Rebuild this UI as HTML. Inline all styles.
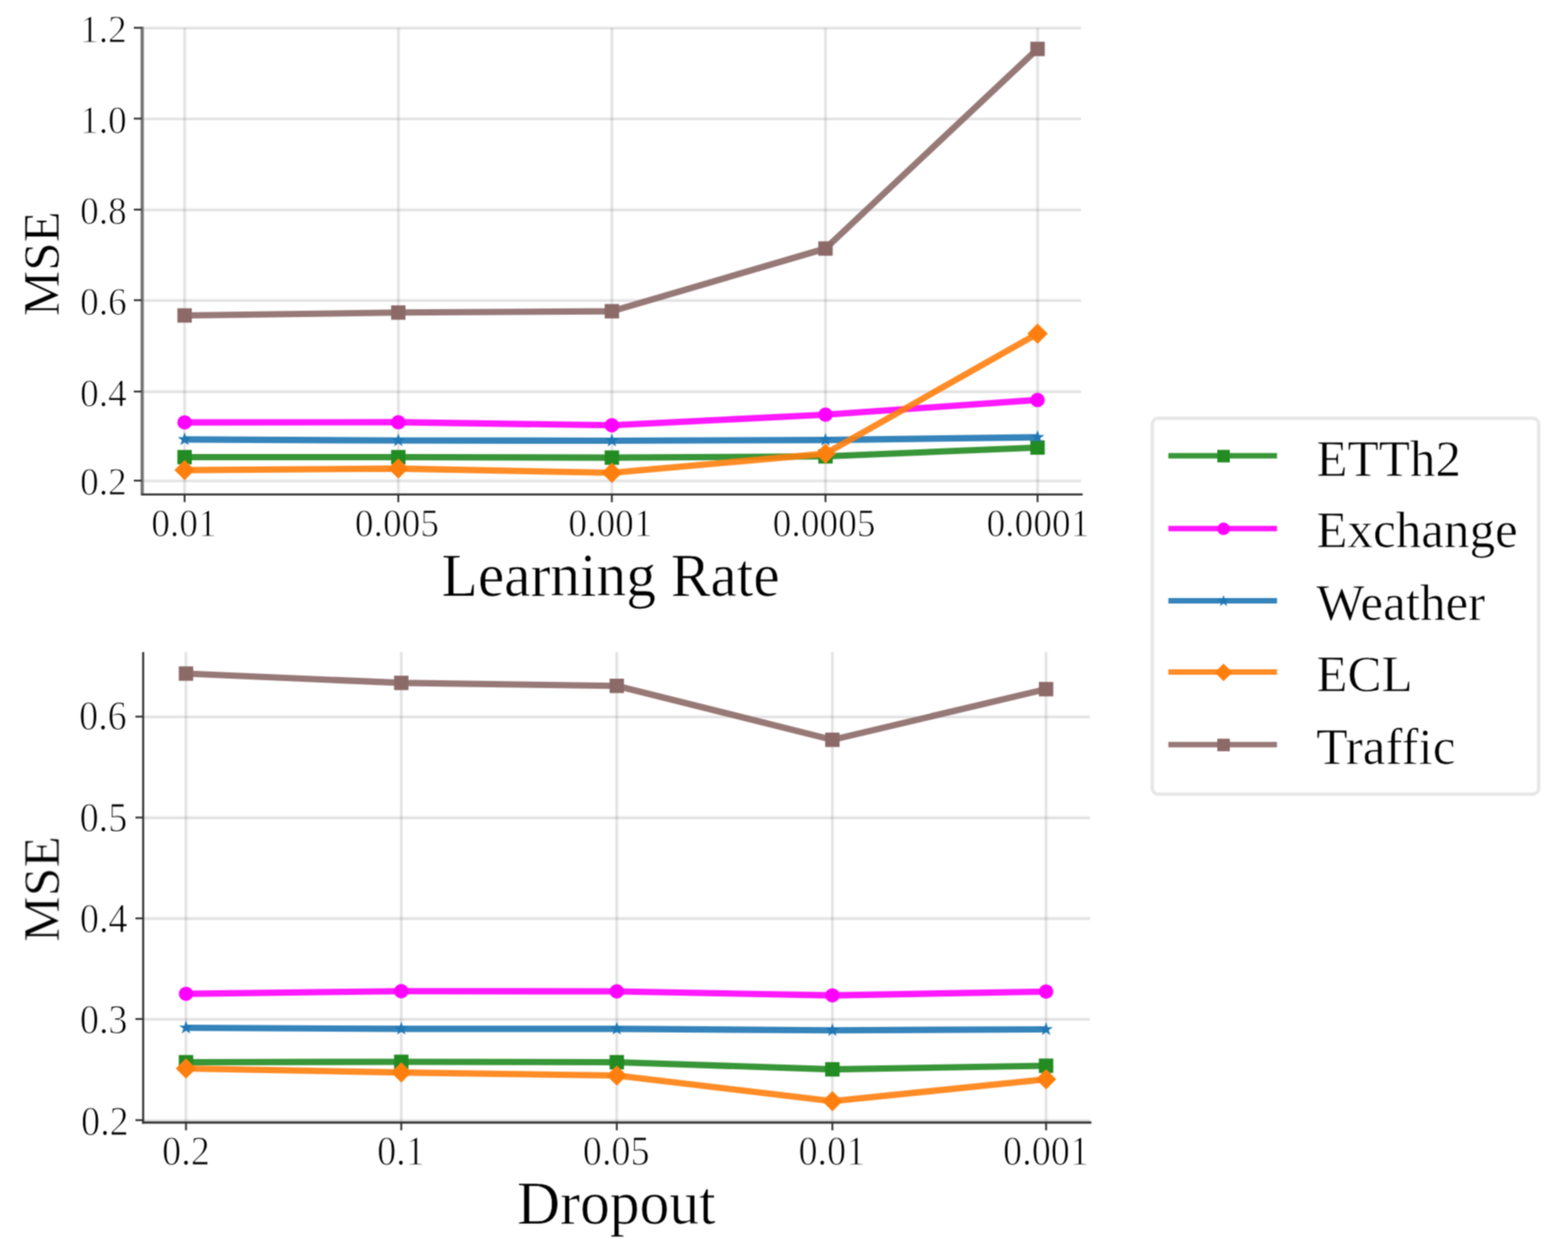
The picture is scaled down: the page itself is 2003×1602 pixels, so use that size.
<!DOCTYPE html>
<html lang="en">
<head>
<meta charset="utf-8">
<title>MSE vs Learning Rate and Dropout</title>
<style>
html, body { margin: 0; padding: 0; background: #ffffff; }
body { width: 2003px; height: 1602px; overflow: hidden; }
svg { display: block; font-family: "Liberation Serif", "DejaVu Serif", serif; }
text { fill: #000; }
</style>
</head>
<body>
<svg width="2003" height="1602" viewBox="0 0 2003 1602">
<defs>
<filter id="soft1" x="0" y="0" width="1410" height="800" filterUnits="userSpaceOnUse" color-interpolation-filters="sRGB">
<feConvolveMatrix order="3" kernelMatrix="1 2 1 2 4 2 1 2 1" divisor="16" edgeMode="duplicate" preserveAlpha="false"/>
</filter>
<filter id="soft2" x="0" y="800" width="1410" height="802" filterUnits="userSpaceOnUse" color-interpolation-filters="sRGB">
<feConvolveMatrix order="3" kernelMatrix="1 2 1 2 4 2 1 2 1" divisor="16" edgeMode="duplicate" preserveAlpha="false"/>
</filter>
<filter id="soft3" x="1440" y="500" width="563" height="560" filterUnits="userSpaceOnUse" color-interpolation-filters="sRGB">
<feConvolveMatrix order="3" kernelMatrix="1 2 1 2 4 2 1 2 1" divisor="16" edgeMode="duplicate" preserveAlpha="false"/>
</filter>
<linearGradient id="lsp" x1="0" y1="0" x2="1" y2="0">
<stop offset="0" stop-color="#5e5e5e"/>
<stop offset="1" stop-color="#8e8e8e"/>
</linearGradient>
</defs>
<rect x="0" y="0" width="2003" height="1602" fill="#ffffff"/>
<g id="figure">
<g id="chart-top" filter="url(#soft1)">
<g stroke="#000" stroke-opacity="0.055" stroke-width="4.6" fill="none">
<line x1="182" y1="35.7" x2="1381" y2="35.7"/>
<line x1="182" y1="151.7" x2="1381" y2="151.7"/>
<line x1="182" y1="268" x2="1381" y2="268"/>
<line x1="182" y1="383.7" x2="1381" y2="383.7"/>
<line x1="182" y1="500.4" x2="1381" y2="500.4"/>
<line x1="182" y1="614.2" x2="1381" y2="614.2"/>
<line x1="236.1" y1="35.5" x2="236.1" y2="631.5"/>
<line x1="509.1" y1="35.5" x2="509.1" y2="631.5"/>
<line x1="781.9" y1="35.5" x2="781.9" y2="631.5"/>
<line x1="1054.8" y1="35.5" x2="1054.8" y2="631.5"/>
<line x1="1325.7" y1="35.5" x2="1325.7" y2="631.5"/>
</g>
<g stroke="#000" stroke-opacity="0.07" stroke-width="2.2" fill="none">
<line x1="182" y1="36" x2="1381" y2="36"/>
<line x1="182" y1="152" x2="1381" y2="152"/>
<line x1="182" y1="268.3" x2="1381" y2="268.3"/>
<line x1="182" y1="384" x2="1381" y2="384"/>
<line x1="182" y1="500.7" x2="1381" y2="500.7"/>
<line x1="182" y1="614.5" x2="1381" y2="614.5"/>
<line x1="235.6" y1="35.5" x2="235.6" y2="631.5"/>
<line x1="508.6" y1="35.5" x2="508.6" y2="631.5"/>
<line x1="781.4" y1="35.5" x2="781.4" y2="631.5"/>
<line x1="1054.3" y1="35.5" x2="1054.3" y2="631.5"/>
<line x1="1325.2" y1="35.5" x2="1325.2" y2="631.5"/>
</g>
<polyline points="235.8,584 508.8,584 781.6,584.6 1054.5,583 1325.4,571.7" fill="none" stroke="#228b22" stroke-opacity="0.9" stroke-width="8.1" stroke-linejoin="round" stroke-linecap="butt"/>
<rect x="226.6" y="574.8" width="18.4" height="18.4" fill="#228b22" fill-opacity="1.0"/>
<rect x="499.6" y="574.8" width="18.4" height="18.4" fill="#228b22" fill-opacity="1.0"/>
<rect x="772.4" y="575.4" width="18.4" height="18.4" fill="#228b22" fill-opacity="1.0"/>
<rect x="1045.3" y="573.8" width="18.4" height="18.4" fill="#228b22" fill-opacity="1.0"/>
<rect x="1316.2" y="562.5" width="18.4" height="18.4" fill="#228b22" fill-opacity="1.0"/>
<polyline points="235.8,539.6 508.8,539.4 781.6,543.3 1054.5,529.8 1325.4,510.9" fill="none" stroke="#ff00ff" stroke-opacity="0.9" stroke-width="8.1" stroke-linejoin="round" stroke-linecap="butt"/>
<circle cx="235.8" cy="539.6" r="9.2" fill="#ff00ff" fill-opacity="1.0"/>
<circle cx="508.8" cy="539.4" r="9.2" fill="#ff00ff" fill-opacity="1.0"/>
<circle cx="781.6" cy="543.3" r="9.2" fill="#ff00ff" fill-opacity="1.0"/>
<circle cx="1054.5" cy="529.8" r="9.2" fill="#ff00ff" fill-opacity="1.0"/>
<circle cx="1325.4" cy="510.9" r="9.2" fill="#ff00ff" fill-opacity="1.0"/>
<polyline points="235.8,561.4 508.8,562.8 781.6,563 1054.5,562.1 1325.4,558.6" fill="none" stroke="#1f77b4" stroke-opacity="0.9" stroke-width="8.1" stroke-linejoin="round" stroke-linecap="butt"/>
<polygon points="235.8,552.2 237.87,558.56 244.55,558.56 239.14,562.49 241.21,568.84 235.8,564.91 230.39,568.84 232.46,562.49 227.05,558.56 233.73,558.56" fill="#1f77b4" fill-opacity="1.0"/>
<polygon points="508.8,553.6 510.87,559.96 517.55,559.96 512.14,563.89 514.21,570.24 508.8,566.31 503.39,570.24 505.46,563.89 500.05,559.96 506.73,559.96" fill="#1f77b4" fill-opacity="1.0"/>
<polygon points="781.6,553.8 783.67,560.16 790.35,560.16 784.94,564.09 787.01,570.44 781.6,566.51 776.19,570.44 778.26,564.09 772.85,560.16 779.53,560.16" fill="#1f77b4" fill-opacity="1.0"/>
<polygon points="1054.5,552.9 1056.57,559.26 1063.25,559.26 1057.84,563.19 1059.91,569.54 1054.5,565.61 1049.09,569.54 1051.16,563.19 1045.75,559.26 1052.43,559.26" fill="#1f77b4" fill-opacity="1.0"/>
<polygon points="1325.4,549.4 1327.47,555.76 1334.15,555.76 1328.74,559.69 1330.81,566.04 1325.4,562.11 1319.99,566.04 1322.06,559.69 1316.65,555.76 1323.33,555.76" fill="#1f77b4" fill-opacity="1.0"/>
<polyline points="235.8,600.6 508.8,598.6 781.6,604 1054.5,579.6 1325.4,426.2" fill="none" stroke="#ff7f0e" stroke-opacity="0.9" stroke-width="8.1" stroke-linejoin="round" stroke-linecap="butt"/>
<polygon points="235.8,587.59 248.81,600.6 235.8,613.61 222.79,600.6" fill="#ff7f0e" fill-opacity="1.0"/>
<polygon points="508.8,585.59 521.81,598.6 508.8,611.61 495.79,598.6" fill="#ff7f0e" fill-opacity="1.0"/>
<polygon points="781.6,590.99 794.61,604 781.6,617.01 768.59,604" fill="#ff7f0e" fill-opacity="1.0"/>
<polygon points="1054.5,566.59 1067.51,579.6 1054.5,592.61 1041.49,579.6" fill="#ff7f0e" fill-opacity="1.0"/>
<polygon points="1325.4,413.19 1338.41,426.2 1325.4,439.21 1312.39,426.2" fill="#ff7f0e" fill-opacity="1.0"/>
<polyline points="235.8,403 508.8,399.3 781.6,397.6 1054.5,317.5 1325.4,62.5" fill="none" stroke="#8c6a68" stroke-opacity="0.9" stroke-width="8.1" stroke-linejoin="round" stroke-linecap="butt"/>
<rect x="226.6" y="393.8" width="18.4" height="18.4" fill="#8c6a68" fill-opacity="1.0"/>
<rect x="499.6" y="390.1" width="18.4" height="18.4" fill="#8c6a68" fill-opacity="1.0"/>
<rect x="772.4" y="388.4" width="18.4" height="18.4" fill="#8c6a68" fill-opacity="1.0"/>
<rect x="1045.3" y="308.3" width="18.4" height="18.4" fill="#8c6a68" fill-opacity="1.0"/>
<rect x="1316.2" y="53.3" width="18.4" height="18.4" fill="#8c6a68" fill-opacity="1.0"/>
<rect x="179.7" y="34" width="4.2" height="599" fill="url(#lsp)"/><rect x="181" y="630.4" width="1202" height="2.6" fill="#333"/>
<g stroke="#2b2b2b" stroke-width="2.3">
<line x1="171" y1="35.5" x2="181" y2="35.5"/>
<line x1="171" y1="151.5" x2="181" y2="151.5"/>
<line x1="171" y1="267.8" x2="181" y2="267.8"/>
<line x1="171" y1="383.5" x2="181" y2="383.5"/>
<line x1="171" y1="500.2" x2="181" y2="500.2"/>
<line x1="171" y1="614" x2="181" y2="614"/>
<line x1="235.8" y1="632" x2="235.8" y2="641.5"/>
<line x1="508.8" y1="632" x2="508.8" y2="641.5"/>
<line x1="781.6" y1="632" x2="781.6" y2="641.5"/>
<line x1="1054.5" y1="632" x2="1054.5" y2="641.5"/>
<line x1="1325.4" y1="632" x2="1325.4" y2="641.5"/>
</g>
<g font-size="47.8" fill="#000" stroke="#fff" stroke-width="1.0" stroke-linejoin="round">
<text transform="translate(162,53.9) scale(1,1.08)" text-anchor="end">1.2</text>
<text transform="translate(162,169.9) scale(1,1.08)" text-anchor="end">1.0</text>
<text transform="translate(162,286.2) scale(1,1.08)" text-anchor="end">0.8</text>
<text transform="translate(162,401.9) scale(1,1.08)" text-anchor="end">0.6</text>
<text transform="translate(162,518.6) scale(1,1.08)" text-anchor="end">0.4</text>
<text transform="translate(162,632.4) scale(1,1.08)" text-anchor="end">0.2</text>
<text transform="translate(235,685.2) scale(1,1.08)" text-anchor="middle">0.01</text>
<text transform="translate(507.1,685.2) scale(1,1.08)" text-anchor="middle">0.005</text>
<text transform="translate(779.8,685.2) scale(1,1.08)" text-anchor="middle">0.001</text>
<text transform="translate(1052.8,685.2) scale(1,1.08)" text-anchor="middle">0.0005</text>
<text transform="translate(1325.9,685.2) scale(1,1.08)" text-anchor="middle">0.0001</text>
</g>
<text transform="translate(780,760.6) scale(1,1.03)" font-size="75.9" text-anchor="middle" stroke="#fff" stroke-width="0.7" stroke-linejoin="round">Learning Rate</text>
<text transform="translate(75,337) rotate(-90)" font-size="65.3" text-anchor="middle" stroke="#fff" stroke-width="0.7" stroke-linejoin="round">MSE</text>
</g>
<g id="chart-bottom" filter="url(#soft2)">
<g stroke="#000" stroke-opacity="0.055" stroke-width="4.6" fill="none">
<line x1="183" y1="915.7" x2="1392.4" y2="915.7"/>
<line x1="183" y1="1044.6" x2="1392.4" y2="1044.6"/>
<line x1="183" y1="1173.4" x2="1392.4" y2="1173.4"/>
<line x1="183" y1="1302" x2="1392.4" y2="1302"/>
<line x1="183" y1="1431.2" x2="1392.4" y2="1431.2"/>
<line x1="237.8" y1="833" x2="237.8" y2="1434"/>
<line x1="512.8" y1="833" x2="512.8" y2="1434"/>
<line x1="788.1" y1="833" x2="788.1" y2="1434"/>
<line x1="1063.5" y1="833" x2="1063.5" y2="1434"/>
<line x1="1336.5" y1="833" x2="1336.5" y2="1434"/>
</g>
<g stroke="#000" stroke-opacity="0.07" stroke-width="2.2" fill="none">
<line x1="183" y1="916" x2="1392.4" y2="916"/>
<line x1="183" y1="1044.9" x2="1392.4" y2="1044.9"/>
<line x1="183" y1="1173.7" x2="1392.4" y2="1173.7"/>
<line x1="183" y1="1302.3" x2="1392.4" y2="1302.3"/>
<line x1="183" y1="1431.5" x2="1392.4" y2="1431.5"/>
<line x1="237.3" y1="833" x2="237.3" y2="1434"/>
<line x1="512.3" y1="833" x2="512.3" y2="1434"/>
<line x1="787.6" y1="833" x2="787.6" y2="1434"/>
<line x1="1063" y1="833" x2="1063" y2="1434"/>
<line x1="1336" y1="833" x2="1336" y2="1434"/>
</g>
<polyline points="237.6,1357 512.6,1356.5 787.9,1357 1063.3,1366.1 1336.3,1361.5" fill="none" stroke="#228b22" stroke-opacity="0.9" stroke-width="8.1" stroke-linejoin="round" stroke-linecap="butt"/>
<rect x="228.4" y="1347.8" width="18.4" height="18.4" fill="#228b22" fill-opacity="1.0"/>
<rect x="503.4" y="1347.3" width="18.4" height="18.4" fill="#228b22" fill-opacity="1.0"/>
<rect x="778.7" y="1347.8" width="18.4" height="18.4" fill="#228b22" fill-opacity="1.0"/>
<rect x="1054.1" y="1356.9" width="18.4" height="18.4" fill="#228b22" fill-opacity="1.0"/>
<rect x="1327.1" y="1352.3" width="18.4" height="18.4" fill="#228b22" fill-opacity="1.0"/>
<polyline points="237.6,1269.6 512.6,1266.2 787.9,1266.5 1063.3,1271.6 1336.3,1266.8" fill="none" stroke="#ff00ff" stroke-opacity="0.9" stroke-width="8.1" stroke-linejoin="round" stroke-linecap="butt"/>
<circle cx="237.6" cy="1269.6" r="9.2" fill="#ff00ff" fill-opacity="1.0"/>
<circle cx="512.6" cy="1266.2" r="9.2" fill="#ff00ff" fill-opacity="1.0"/>
<circle cx="787.9" cy="1266.5" r="9.2" fill="#ff00ff" fill-opacity="1.0"/>
<circle cx="1063.3" cy="1271.6" r="9.2" fill="#ff00ff" fill-opacity="1.0"/>
<circle cx="1336.3" cy="1266.8" r="9.2" fill="#ff00ff" fill-opacity="1.0"/>
<polyline points="237.6,1313 512.6,1314.4 787.9,1314.4 1063.3,1316.2 1336.3,1315" fill="none" stroke="#1f77b4" stroke-opacity="0.9" stroke-width="8.1" stroke-linejoin="round" stroke-linecap="butt"/>
<polygon points="237.6,1303.8 239.67,1310.16 246.35,1310.16 240.94,1314.09 243.01,1320.44 237.6,1316.51 232.19,1320.44 234.26,1314.09 228.85,1310.16 235.53,1310.16" fill="#1f77b4" fill-opacity="1.0"/>
<polygon points="512.6,1305.2 514.67,1311.56 521.35,1311.56 515.94,1315.49 518.01,1321.84 512.6,1317.91 507.19,1321.84 509.26,1315.49 503.85,1311.56 510.53,1311.56" fill="#1f77b4" fill-opacity="1.0"/>
<polygon points="787.9,1305.2 789.97,1311.56 796.65,1311.56 791.24,1315.49 793.31,1321.84 787.9,1317.91 782.49,1321.84 784.56,1315.49 779.15,1311.56 785.83,1311.56" fill="#1f77b4" fill-opacity="1.0"/>
<polygon points="1063.3,1307 1065.37,1313.36 1072.05,1313.36 1066.64,1317.29 1068.71,1323.64 1063.3,1319.71 1057.89,1323.64 1059.96,1317.29 1054.55,1313.36 1061.23,1313.36" fill="#1f77b4" fill-opacity="1.0"/>
<polygon points="1336.3,1305.8 1338.37,1312.16 1345.05,1312.16 1339.64,1316.09 1341.71,1322.44 1336.3,1318.51 1330.89,1322.44 1332.96,1316.09 1327.55,1312.16 1334.23,1312.16" fill="#1f77b4" fill-opacity="1.0"/>
<polyline points="237.6,1365 512.6,1370.1 787.9,1374 1063.3,1406.7 1336.3,1378.8" fill="none" stroke="#ff7f0e" stroke-opacity="0.9" stroke-width="8.1" stroke-linejoin="round" stroke-linecap="butt"/>
<polygon points="237.6,1351.99 250.61,1365 237.6,1378.01 224.59,1365" fill="#ff7f0e" fill-opacity="1.0"/>
<polygon points="512.6,1357.09 525.61,1370.1 512.6,1383.11 499.59,1370.1" fill="#ff7f0e" fill-opacity="1.0"/>
<polygon points="787.9,1360.99 800.91,1374 787.9,1387.01 774.89,1374" fill="#ff7f0e" fill-opacity="1.0"/>
<polygon points="1063.3,1393.69 1076.31,1406.7 1063.3,1419.71 1050.29,1406.7" fill="#ff7f0e" fill-opacity="1.0"/>
<polygon points="1336.3,1365.79 1349.31,1378.8 1336.3,1391.81 1323.29,1378.8" fill="#ff7f0e" fill-opacity="1.0"/>
<polyline points="237.6,860.5 512.6,872.4 787.9,876.2 1063.3,945.1 1336.3,880.4" fill="none" stroke="#8c6a68" stroke-opacity="0.9" stroke-width="8.1" stroke-linejoin="round" stroke-linecap="butt"/>
<rect x="228.4" y="851.3" width="18.4" height="18.4" fill="#8c6a68" fill-opacity="1.0"/>
<rect x="503.4" y="863.2" width="18.4" height="18.4" fill="#8c6a68" fill-opacity="1.0"/>
<rect x="778.7" y="867" width="18.4" height="18.4" fill="#8c6a68" fill-opacity="1.0"/>
<rect x="1054.1" y="935.9" width="18.4" height="18.4" fill="#8c6a68" fill-opacity="1.0"/>
<rect x="1327.1" y="871.2" width="18.4" height="18.4" fill="#8c6a68" fill-opacity="1.0"/>
<rect x="181.6" y="833" width="2.6" height="602.5" fill="#333"/><rect x="181.6" y="1432.6" width="1212.6" height="2.9" fill="#333"/>
<g stroke="#333" stroke-width="2.4">
<line x1="173" y1="915.5" x2="182" y2="915.5"/>
<line x1="173" y1="1044.4" x2="182" y2="1044.4"/>
<line x1="173" y1="1173.2" x2="182" y2="1173.2"/>
<line x1="173" y1="1301.8" x2="182" y2="1301.8"/>
<line x1="173" y1="1431" x2="182" y2="1431"/>
<line x1="237.6" y1="1434" x2="237.6" y2="1444"/>
<line x1="512.6" y1="1434" x2="512.6" y2="1444"/>
<line x1="787.9" y1="1434" x2="787.9" y2="1444"/>
<line x1="1063.3" y1="1434" x2="1063.3" y2="1444"/>
<line x1="1336.3" y1="1434" x2="1336.3" y2="1444"/>
</g>
<g font-size="48.8" fill="#000" stroke="#fff" stroke-width="1.0" stroke-linejoin="round">
<text transform="translate(162,932) scale(1,1.07)" text-anchor="end">0.6</text>
<text transform="translate(162.7,1062.4) scale(1,1.07)" text-anchor="end">0.5</text>
<text transform="translate(163,1190.6) scale(1,1.07)" text-anchor="end">0.4</text>
<text transform="translate(163,1319.5) scale(1,1.07)" text-anchor="end">0.3</text>
<text transform="translate(164.5,1450) scale(1,1.07)" text-anchor="end">0.2</text>
<text transform="translate(237.6,1488.4) scale(1,1.07)" text-anchor="middle">0.2</text>
<text transform="translate(512.2,1488.4) scale(1,1.07)" text-anchor="middle">0.1</text>
<text transform="translate(787.2,1488.4) scale(1,1.07)" text-anchor="middle">0.05</text>
<text transform="translate(1062.6,1488.4) scale(1,1.07)" text-anchor="middle">0.01</text>
<text transform="translate(1336.2,1488.4) scale(1,1.07)" text-anchor="middle">0.001</text>
</g>
<text transform="translate(787.4,1563) scale(1,1.03)" font-size="76.1" text-anchor="middle" stroke="#fff" stroke-width="0.7" stroke-linejoin="round">Dropout</text>
<text transform="translate(75.2,1135.8) rotate(-90)" font-size="65.8" text-anchor="middle" stroke="#fff" stroke-width="0.7" stroke-linejoin="round">MSE</text>
</g>
<g id="legend" filter="url(#soft3)">
<rect x="1472" y="534.3" width="493.6" height="480.2" rx="7.5" ry="7.5" fill="#fff" stroke="#e7e7e7" stroke-width="4.4"/>
<line x1="1492.5" y1="582.3" x2="1631.3" y2="582.3" stroke="#228b22" stroke-opacity="0.9" stroke-width="7"/>
<rect x="1555" y="574.7" width="16" height="16" fill="#228b22" fill-opacity="1.0"/>
<text x="1681.4" y="608.3" font-size="65.3" stroke="#fff" stroke-width="0.7" stroke-linejoin="round">ETTh2</text>
<line x1="1492.5" y1="675.2" x2="1631.3" y2="675.2" stroke="#ff00ff" stroke-opacity="0.9" stroke-width="7"/>
<circle cx="1563" cy="675.6" r="8" fill="#ff00ff" fill-opacity="1.0"/>
<text x="1681.4" y="699.2" font-size="65.3" stroke="#fff" stroke-width="0.7" stroke-linejoin="round">Exchange</text>
<line x1="1492.5" y1="767.6" x2="1631.3" y2="767.6" stroke="#1f77b4" stroke-opacity="0.9" stroke-width="7"/>
<polygon points="1563,760 1564.8,765.53 1570.61,765.53 1565.91,768.94 1567.7,774.47 1563,771.06 1558.3,774.47 1560.09,768.94 1555.39,765.53 1561.2,765.53" fill="#1f77b4" fill-opacity="1.0"/>
<text x="1681.4" y="791.6" font-size="65.3" stroke="#fff" stroke-width="0.7" stroke-linejoin="round">Weather</text>
<line x1="1492.5" y1="858.6" x2="1631.3" y2="858.6" stroke="#ff7f0e" stroke-opacity="0.9" stroke-width="7"/>
<polygon points="1563,847.69 1574.31,859 1563,870.31 1551.69,859" fill="#ff7f0e" fill-opacity="1.0"/>
<text x="1681.4" y="883.2" font-size="65.3" stroke="#fff" stroke-width="0.7" stroke-linejoin="round">ECL</text>
<line x1="1492.5" y1="951.3" x2="1631.3" y2="951.3" stroke="#8c6a68" stroke-opacity="0.9" stroke-width="7"/>
<rect x="1555" y="943.7" width="16" height="16" fill="#8c6a68" fill-opacity="1.0"/>
<text x="1681.4" y="976" font-size="65.3" stroke="#fff" stroke-width="0.7" stroke-linejoin="round">Traffic</text>
</g>
</g>
</svg>
</body>
</html>
